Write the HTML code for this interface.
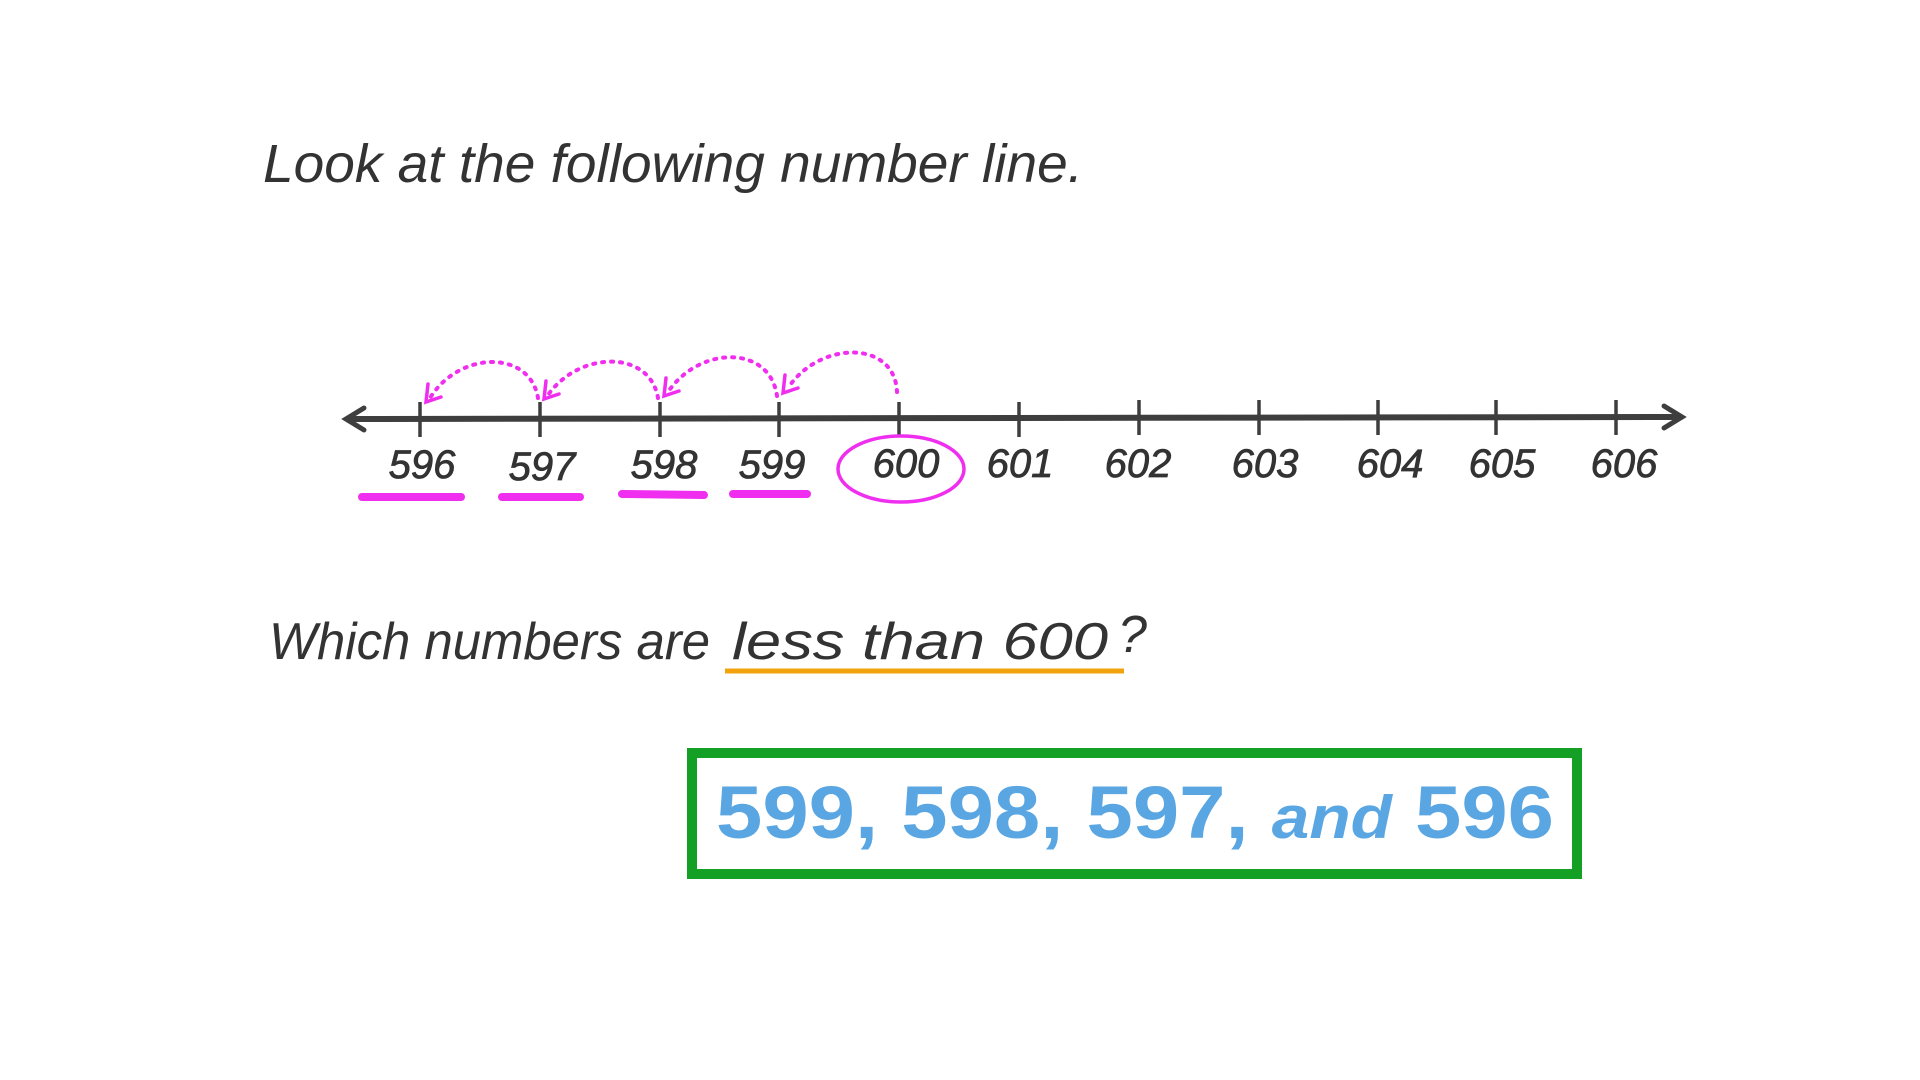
<!DOCTYPE html>
<html><head><meta charset="utf-8"><style>
html,body{margin:0;padding:0;background:#fff;width:1920px;height:1080px;overflow:hidden}
svg{position:absolute;left:0;top:0}
text{font-family:"Liberation Sans",sans-serif}
</style></head><body>
<svg width="1920" height="1080" viewBox="0 0 1920 1080">
<text x="263" y="182" font-size="54" font-style="italic" fill="#333" textLength="820" lengthAdjust="spacingAndGlyphs">Look at the following number line.</text>
<line x1="346" y1="419" x2="1680" y2="417" stroke="#3e3e3e" stroke-width="6"/>
<path d="M364 408 L346 419 L364 430" fill="none" stroke="#3e3e3e" stroke-width="5" stroke-linecap="round"/>
<path d="M1664 406 L1682 417 L1664 428" fill="none" stroke="#3e3e3e" stroke-width="5" stroke-linecap="round"/>
<g stroke="#3e3e3e" stroke-width="3.5">
<line x1="420" y1="402" x2="420" y2="437"/><line x1="540" y1="402" x2="540" y2="437"/>
<line x1="660" y1="402" x2="660" y2="437"/><line x1="779" y1="402" x2="779" y2="437"/>
<line x1="899" y1="402" x2="899" y2="437"/><line x1="1019" y1="402" x2="1019" y2="437"/>
<line x1="1139" y1="400" x2="1139" y2="435"/><line x1="1259" y1="400" x2="1259" y2="435"/>
<line x1="1378" y1="400" x2="1378" y2="435"/><line x1="1496" y1="400" x2="1496" y2="435"/>
<line x1="1616" y1="400" x2="1616" y2="435"/>
</g>
<g font-size="40" fill="#333" font-style="italic" text-anchor="middle" stroke="#333" stroke-width="0.8">
<text x="422" y="478">596</text><text x="542" y="480">597</text><text x="664" y="478">598</text>
<text x="772" y="478">599</text><text x="906" y="477">600</text><text x="1020" y="477">601</text>
<text x="1138" y="477">602</text><text x="1265" y="477">603</text><text x="1390" y="477">604</text>
<text x="1502" y="477">605</text><text x="1624" y="477">606</text>
</g>
<g stroke="#f02ef0" stroke-width="8" stroke-linecap="round">
<line x1="362" y1="497" x2="461" y2="497"/><line x1="502" y1="497" x2="580" y2="497"/>
<line x1="622" y1="494" x2="704" y2="495"/><line x1="733" y1="494" x2="807" y2="494"/>
</g>
<ellipse cx="901" cy="469" rx="63" ry="33" fill="none" stroke="#f02ef0" stroke-width="3.5"/>
<g fill="none" stroke="#f02ef0" stroke-width="4" stroke-dasharray="2 7" stroke-linecap="round">
<path d="M897 392 C895 340 820 340 788 388"/>
<path d="M777 396 C770 345 700 345 668 392"/>
<path d="M658 398 C650 350 580 350 548 395"/>
<path d="M538 398 C530 350 460 350 430 398"/>
</g>
<g fill="none" stroke="#f02ef0" stroke-width="3.5" stroke-linecap="round">
<path d="M785 375 L783 393 L798 388"/><path d="M666 378 L664 396 L679 391"/>
<path d="M546 381 L544 399 L559 394"/><path d="M428 384 L426 402 L441 397"/>
</g>
<g font-size="52" font-style="italic" fill="#333">
<text x="269" y="659" textLength="441" lengthAdjust="spacingAndGlyphs">Which numbers are</text>
<text x="732" y="659" textLength="376" lengthAdjust="spacingAndGlyphs">less than 600</text>
<text x="1118" y="652">?</text>
</g>
<line x1="725" y1="671" x2="1124" y2="671" stroke="#f2a20c" stroke-width="5"/>
<rect x="692" y="753" width="885" height="121" fill="none" stroke="#14a024" stroke-width="10"/>
<text x="716" y="838" font-size="74" font-weight="bold" fill="#59a6e2" textLength="838" lengthAdjust="spacingAndGlyphs">599, 598, 597, <tspan font-style="italic" font-size="60">and</tspan> 596</text>
</svg>
</body></html>
